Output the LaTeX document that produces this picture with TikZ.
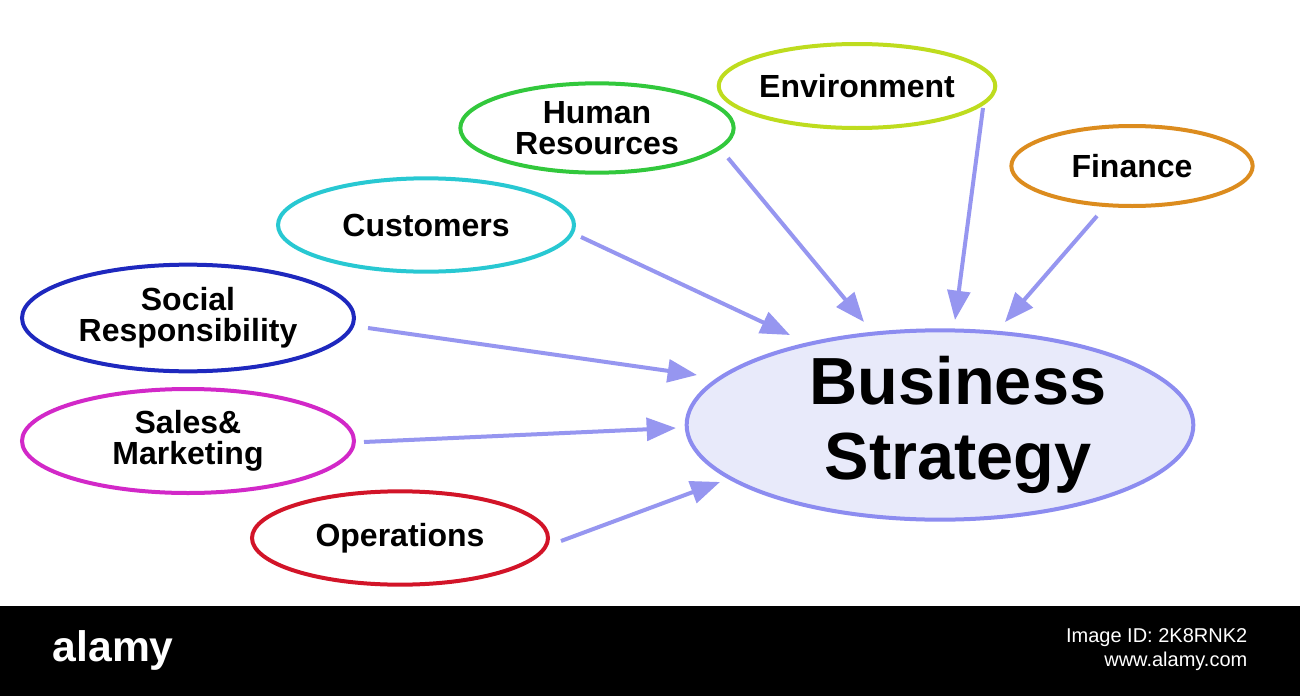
\documentclass[tikz,border=0pt]{standalone}
\usepackage{fontspec}
\setmainfont{Liberation Sans}
\usetikzlibrary{shapes.geometric,arrows.meta}
\definecolor{arr}{RGB}{150,150,240}
\definecolor{cEnv}{RGB}{190,220,30}
\definecolor{cHR}{RGB}{50,200,60}
\definecolor{cFin}{RGB}{220,140,30}
\definecolor{cCus}{RGB}{40,200,210}
\definecolor{cSoc}{RGB}{30,40,190}
\definecolor{cSal}{RGB}{210,40,200}
\definecolor{cOp}{RGB}{210,20,40}
\definecolor{bsF}{RGB}{232,234,250}
\definecolor{bsD}{RGB}{140,140,240}
\begin{document}
\begin{tikzpicture}[x=0.75pt,y=-0.75pt,
 ell/.style={ellipse,line width=3pt,fill=white,align=center,inner sep=0pt,font=\bfseries\fontsize{24}{23}\selectfont},
 con/.style={arr,line width=3pt,-{Triangle[length=22pt,width=17pt]}}]
\useasboundingbox (0,0) rectangle (1300,696);
\fill[white] (0,0) rectangle (1300,606);
\fill[black] (0,606) rectangle (1300,696);
\node[ell,draw=cEnv,minimum width=195pt,minimum height=63pt] (env) at (857,86) {Environment};
\node[ell,draw=cHR,minimum width=205pt,minimum height=67pt] (hr) at (597,128) {Human\\Resources};
\node[ell,draw=cFin,minimum width=181pt,minimum height=60pt] (fin) at (1132,166) {Finance};
\node[ell,draw=cCus,minimum width=222pt,minimum height=70pt] (cus) at (426,225) {Customers};
\node[ell,draw=cSoc,minimum width=249pt,minimum height=80pt] (soc) at (188,318) {Social\\Responsibility};
\node[ell,draw=cSal,minimum width=249pt,minimum height=78pt] (sal) at (188,441) {Sales\&\\Marketing};
\node[ell,draw=cOp,minimum width=222pt,minimum height=70pt] (op) at (400,538) {Operations};
\node[ellipse,draw=bsD,fill=bsF,line width=3pt,minimum width=380pt,minimum height=142pt,inner sep=0pt] (bs) at (940,425) {};
\node[align=center,font=\bfseries\fontsize{50}{56}\selectfont] (bst) at (958,425) {Business\\Strategy};
\coordinate (a1) at (728,158); \coordinate (b1) at (864,322);
\coordinate (a2) at (983,108); \coordinate (b2) at (955,320);
\coordinate (a3) at (1097,216); \coordinate (b3) at (1005,322);
\coordinate (a4) at (581,237); \coordinate (b4) at (790,335);
\coordinate (a5) at (368,328); \coordinate (b5) at (697,375);
\coordinate (a6) at (364,442); \coordinate (b6) at (676,428);
\coordinate (a7) at (561,541); \coordinate (b7) at (720,482);
\foreach \i in {1,...,7} \draw[con] (a\i) -- (b\i);
\node[white,font=\bfseries\fontsize{32}{36}\selectfont,anchor=west] (al) at (48,650) {alamy};
\node[white,font=\fontsize{15}{18}\selectfont,anchor=east,align=right] (id) at (1252,650) {Image ID: 2K8RNK2\\www.alamy.com};
\end{tikzpicture}
\end{document}
